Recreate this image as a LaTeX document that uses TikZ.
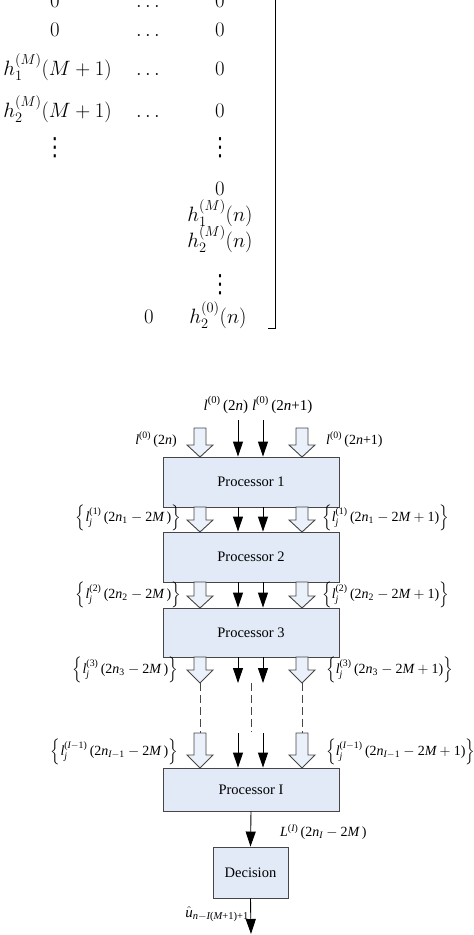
\documentclass[tikz,border=0pt]{standalone}
\usepackage{amsmath}
\usepackage{graphicx}
\usepackage{fontspec}
\newfontfamily\tnr{Liberation Serif}
\newfontfamily\djv{DejaVu Sans}
\usetikzlibrary{arrows.meta}
\definecolor{boxblue}{RGB}{225,234,246}
\definecolor{arrowblue}{RGB}{234,241,250}
\definecolor{edgegray}{RGB}{70,70,70}
\newcommand\tI[1]{\text{\tnr\itshape #1}}
\newcommand\tR[1]{\text{\tnr #1}}
\newcommand\bigvdots{\scalebox{1}[1.25]{\djv\fontsize{20}{20}\selectfont ⋮}}
% name, x, ytop, ytip, head length
\newcommand\hollowarrow[5]{%
  \path[harrow] (#2-6,#3) -- (#2+6,#3) -- (#2+6,#4-#5) -- (#2+13,#4-#5) -- (#2,#4)
     -- (#2-13,#4-#5) -- (#2-6,#4-#5) -- cycle;
  \coordinate (#1top) at (#2,#3);
  \coordinate (#1tip) at (#2,#4);}
\begin{document}
\begin{tikzpicture}[x=1pt,y=-1pt,
  mat/.style={inner sep=0pt, font=\fontsize{20.74}{25}\selectfont},
  lab/.style={inner sep=0pt, font=\tnr\fontsize{14}{16}\selectfont},
  proc/.style={draw=edgegray, fill=boxblue, line width=0.9pt, minimum width=176pt,
     inner sep=0pt, font=\tnr\fontsize{14.5}{17}\selectfont},
  blk/.style={line width=0.9pt, -{Triangle[length=15pt,width=10pt]}},
  harrow/.style={draw=edgegray, fill=arrowblue, line width=0.9pt, line join=miter},
  dashln/.style={draw=edgegray, line width=0.9pt, dash pattern=on 8pt off 4pt},
  bracketln/.style={line width=0.8pt}]
\useasboundingbox (0,0) rectangle (474,935);
\clip (0,0) rectangle (474,935);

% ---------- matrix fragment ----------
\node[mat, anchor=base] (m11) at (55,7) {$0$};
\node[mat, anchor=base] (m12) at (148,7) {$\ldots$};
\node[mat, anchor=base] (m13) at (220,7) {$0$};
\node[mat, anchor=base] (m21) at (55,36) {$0$};
\node[mat, anchor=base] (m22) at (148,36) {$\ldots$};
\node[mat, anchor=base] (m23) at (220,36) {$0$};
\node[mat, anchor=base east] (m31) at (112,75) {$h_1^{(M)}(M+1)$};
\node[mat, anchor=base] (m32) at (148,75) {$\ldots$};
\node[mat, anchor=base] (m33) at (220,75) {$0$};
\node[mat, anchor=base east] (m41) at (112,117) {$h_2^{(M)}(M+1)$};
\node[mat, anchor=base] (m42) at (148,117) {$\ldots$};
\node[mat, anchor=base] (m43) at (220,117) {$0$};
\node[mat] (m51) at (55,148) {\bigvdots};
\node[mat] (m53) at (220,148) {\bigvdots};
\node[mat, anchor=base] (n1) at (220,195) {$0$};
\node[mat, anchor=base] (n2) at (220,221) {$h_1^{(M)}(n)$};
\node[mat, anchor=base] (n3) at (220,247) {$h_2^{(M)}(n)$};
\node[mat] (n4) at (220,285) {\bigvdots};
\node[mat, anchor=base] (n5a) at (149,323) {$0$};
\node[mat, anchor=base] (n5b) at (218,323) {$h_2^{(0)}(n)$};
\coordinate (brT) at (275,0);
\coordinate (brC) at (275,328);
\coordinate (brE) at (268,328);
\draw[bracketln] (brT) -- (brC) -- (brE);

% ---------- processors ----------
\node[proc, minimum height=50pt] (P1) at (251,482) {Processor 1};
\node[proc, minimum height=50pt] (P2) at (251,557) {Processor 2};
\node[proc, minimum height=49pt] (P3) at (251,632.5) {Processor 3};
\node[proc, minimum height=43pt] (PI) at (251,789.5) {Processor I};
\node[proc, minimum width=75pt, minimum height=51pt] (D) at (250.5,872.5) {Decision};

% column coordinates
\coordinate (cA) at (238,0);
\coordinate (cB) at (263,0);

% ---------- top inputs ----------
\node[lab, font=\tnr\fontsize{15}{17}\selectfont] (ltop) at (258,405) {$\tI{l}^{\tR{(0)}}\,\tR{(2}\tI{n}\tR{)}\;\tI{l}^{\tR{(0)}}\,\tR{(2}\tI{n}\tR{+1)}$};
\node[lab, anchor=east] (l0L) at (177,440) {$\tI{l}^{\tR{(0)}}\,\tR{(2}\tI{n}\tR{)}$};
\node[lab, anchor=west] (l0R) at (326,440) {$\tI{l}^{\tR{(0)}}\,\tR{(2}\tI{n}\tR{+1)}$};
\coordinate (tA) at (238,420);
\coordinate (tB) at (263,420);
\draw[blk] (tA) -- (P1.north -| tA);
\draw[blk] (tB) -- (P1.north -| tB);
\hollowarrow{h0L}{200}{428}{457}{12}
\hollowarrow{h0R}{302}{428}{457}{12}

% ---------- P1 -> P2 ----------
\hollowarrow{h1L}{200}{507}{532}{12}
\hollowarrow{h1R}{302}{507}{532}{12}
\draw[blk] (P1.south -| cA) -- (P2.north -| cA);
\draw[blk] (P1.south -| cB) -- (P2.north -| cB);
\node[lab, anchor=east] (l1L) at (181,518) {$\left\{\tI{l}^{\tR{(1)}}_{\tI{j}}\,\tR{(2}\tI{n}_{\tR{1}}-\tR{2}\tI{M}\,\tR{)}\right\}$};
\node[lab, anchor=west] (l1R) at (322,518) {$\left\{\tI{l}^{\tR{(1)}}_{\tI{j}}\,\tR{(2}\tI{n}_{\tR{1}}-\tR{2}\tI{M}+\tR{1)}\right\}$};

% ---------- P2 -> P3 ----------
\hollowarrow{h2L}{200}{582}{608}{12}
\hollowarrow{h2R}{302}{582}{608}{12}
\draw[blk] (P2.south -| cA) -- (P3.north -| cA);
\draw[blk] (P2.south -| cB) -- (P3.north -| cB);
\node[lab, anchor=east] (l2L) at (181,595) {$\left\{\tI{l}^{\tR{(2)}}_{\tI{j}}\,\tR{(2}\tI{n}_{\tR{2}}-\tR{2}\tI{M}\,\tR{)}\right\}$};
\node[lab, anchor=west] (l2R) at (322,595) {$\left\{\tI{l}^{\tR{(2)}}_{\tI{j}}\,\tR{(2}\tI{n}_{\tR{2}}-\tR{2}\tI{M}+\tR{1)}\right\}$};

% ---------- P3 -> gap ----------
\hollowarrow{h3L}{200}{657}{683}{13}
\hollowarrow{h3R}{302}{657}{683}{13}
\coordinate (gA) at (238,683);
\coordinate (gB) at (263,683);
\draw[blk] (P3.south -| gA) -- (gA);
\draw[blk] (P3.south -| gB) -- (gB);
\node[lab, anchor=east] (l3L) at (178,670) {$\left\{\tI{l}^{\tR{(3)}}_{\tI{j}}\,\tR{(2}\tI{n}_{\tR{3}}-\tR{2}\tI{M}\,\tR{)}\right\}$};
\node[lab, anchor=west] (l3R) at (326,670) {$\left\{\tI{l}^{\tR{(3)}}_{\tI{j}}\,\tR{(2}\tI{n}_{\tR{3}}-\tR{2}\tI{M}+\tR{1)}\right\}$};

% ---------- gap -> PI ----------
\hollowarrow{h4L}{200}{733}{768}{13}
\hollowarrow{h4R}{302}{733}{768}{13}
\coordinate (kA) at (238,733);
\coordinate (kB) at (263,733);
\draw[blk] (kA) -- (PI.north -| kA);
\draw[blk] (kB) -- (PI.north -| kB);
\coordinate (dM1) at (251,683);
\coordinate (dM2) at (251,732);
\draw[dashln] (h3Ltip) -- (h4Ltop);
\draw[dashln] (h3Rtip) -- (h4Rtop);
\draw[dashln] (dM1) -- (dM2);
\node[lab, anchor=east] (l4L) at (178,752) {$\left\{\tI{l}^{\tR{(}\tI{I}\tR{$-$1)}}_{\tI{j}}\,\tR{(2}\tI{n}_{\tI{I}\tR{$-$1}}-\tR{2}\tI{M}\,\tR{)}\right\}$};
\node[lab, anchor=west] (l4R) at (326,752) {$\left\{\tI{l}^{\tR{(}\tI{I}\tR{$-$1)}}_{\tI{j}}\,\tR{(2}\tI{n}_{\tI{I}\tR{$-$1}}-\tR{2}\tI{M}+\tR{1)}\right\}$};

% ---------- decision ----------
\draw[blk] (PI.south) -- (D.north);
\node[lab, anchor=west] (LI) at (280,832) {$\tI{L}^{\tR{(}\tI{I}\tR{)}}\,\tR{(2}\tI{n}_{\tI{I}}-\tR{2}\tI{M}\,\tR{)}$};
\coordinate (out) at (251,934);
\draw[blk] (D.south) -- (out);
\node[lab, anchor=east, font=\tnr\fontsize{15}{17}\selectfont] (uh) at (249,914) {$\hat{\tI{u}}_{\tI{n}\tR{$-$}\tI{I}\tR{(}\tI{M}\tR{+1)+1}}$};
\end{tikzpicture}
\end{document}
